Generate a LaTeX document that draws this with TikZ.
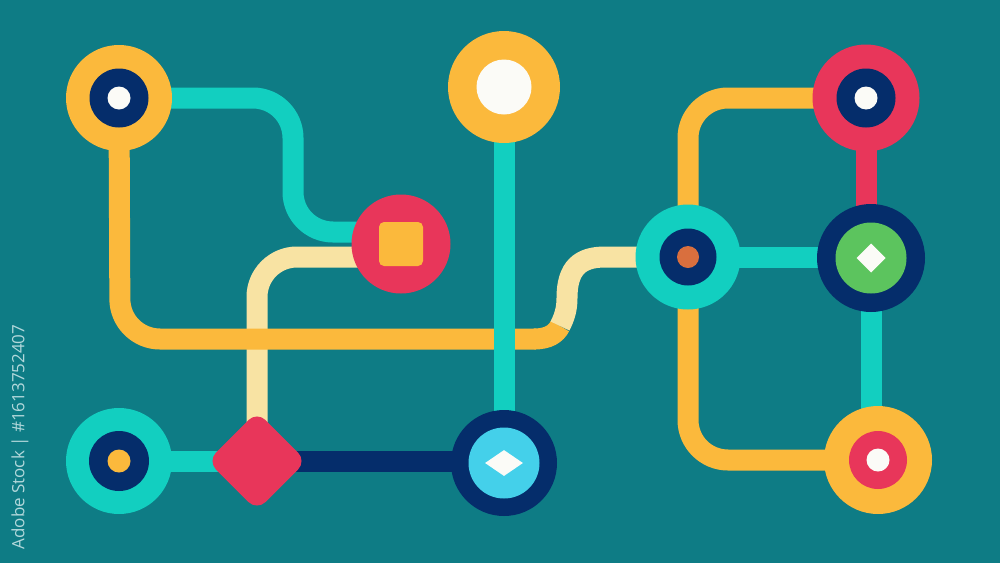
\documentclass[tikz,border=0pt]{standalone}
\usepackage{fontspec}
\newfontfamily\stampfont{Open Sans}
\usepackage{tikz}
\usetikzlibrary{shapes.geometric}
\definecolor{bgteal}{HTML}{0E7C85}
\definecolor{gold}{HTML}{FBB93C}
\definecolor{navy}{HTML}{052D6B}
\definecolor{snow}{HTML}{FBFBF7}
\definecolor{aqua}{HTML}{12CFC0}
\definecolor{crimson}{HTML}{E8365A}
\definecolor{pale}{HTML}{F8E3A3}
\definecolor{leaf}{HTML}{5CC45E}
\definecolor{sky}{HTML}{44D0EA}
\definecolor{rust}{HTML}{D96F3E}
\definecolor{stampgrey}{HTML}{B2D8DB}
\pgfdeclarelayer{bg}
\pgfdeclarelayer{wires}
\pgfsetlayers{bg,wires,main}

\begin{document}
\begin{tikzpicture}[x=1pt,y=-1pt]
\tikzstyle{every node}=[circle,inner sep=0pt]
\tikzstyle{wire}=[line width=21pt,rounded corners=40pt]

\useasboundingbox (0,0) rectangle (1000,563);
\begin{pgfonlayer}{bg}
\fill[bgteal] (0,0) rectangle (1000,563);
\end{pgfonlayer}

\node[fill=gold,minimum size=106pt] (A) at (119,98) {};
\node[fill=navy,minimum size=59pt] (Ain) at (A) {};
\node[fill=snow,minimum size=23pt] (Adot) at (A) {};

\node[fill=gold,minimum size=112pt] (B) at (504,87) {};
\node[fill=snow,minimum size=55pt] (Bdot) at (B) {};

\node[fill=crimson,minimum size=99pt] (C) at (401,244) {};
\node[rectangle,fill=gold,rounded corners=5pt,minimum size=44pt] (Csq) at (C) {};

\node[fill=crimson,minimum size=107pt] (D) at (866,98) {};
\node[fill=navy,minimum size=59pt] (Din) at (D) {};
\node[fill=snow,minimum size=23pt] (Ddot) at (D) {};

\node[fill=aqua,minimum size=105pt] (E) at (688,257) {};
\node[fill=navy,minimum size=57pt] (Ein) at (E) {};
\node[fill=rust,minimum size=22pt] (Edot) at (E) {};

\node[fill=navy,minimum size=108pt] (F) at (871,258) {};
\node[fill=leaf,minimum size=71pt] (Fin) at (F) {};
\node[rectangle,fill=snow,rotate=45,minimum size=20.5pt] (Fgem) at (F) {};

\node[fill=aqua,minimum size=106pt] (G) at (119,461) {};
\node[fill=navy,minimum size=60pt] (Gin) at (G) {};
\node[fill=gold,minimum size=23pt] (Gdot) at (G) {};

\node[rectangle,fill=crimson,rounded corners=12pt,rotate=45,minimum size=70pt] (H) at (257,461) {};

\node[fill=navy,minimum size=106pt] (I) at (504,463) {};
\node[fill=sky,minimum size=71pt] (Iin) at (I) {};
\node[diamond,fill=snow,minimum width=38pt,minimum height=26pt] (Igem) at (I) {};

\node[fill=gold,minimum size=108pt] (J) at (878,460) {};
\node[fill=crimson,minimum size=58pt] (Jin) at (J) {};
\node[fill=snow,minimum size=23pt] (Jdot) at (J) {};

\begin{pgfonlayer}{wires}
\draw[wire,aqua] (A.center) -- (293,98) -- (293,232) -- ([yshift=12pt]C.center);
\draw[wire,pale] ([yshift=-13pt]C.center) -- (257,257) -- (H.center);
\draw[wire,gold] (A.center) -- (120,339) -- (536,339);
\draw[line width=21pt,gold] (534,339) .. controls (548,339) and (556,334) .. (560,326);
\draw[line width=21pt,pale] (560,326) .. controls (564,318) and (567,310) .. (567,298)
  .. controls (567,268) and (580,257) .. (605,257) -- (E.center);
\draw[wire,aqua] (B.center) -- (I.center);
\draw[wire,aqua] (G.center) -- (H.center);
\draw[wire,navy] (H.center) -- (H.center -| I.center);
\draw[wire,gold] (D.center) -- (688,98) -- (E.center);
\draw[wire,crimson] (D.center) -- (D.center |- F.center);
\draw[wire,aqua] (E.center) -- (E.center -| F.center);
\draw[wire,aqua] (F.center) -- (F.center |- J.center);
\draw[wire,gold] (E.center) -- (688,460) -- (J.center);
\end{pgfonlayer}

\node[rectangle,rotate=90,text=stampgrey,font=\stampfont\fontsize{17}{20}\selectfont] (stamp) at (20,437) {Adobe Stock | \#1613752407};
\end{tikzpicture}
\end{document}
